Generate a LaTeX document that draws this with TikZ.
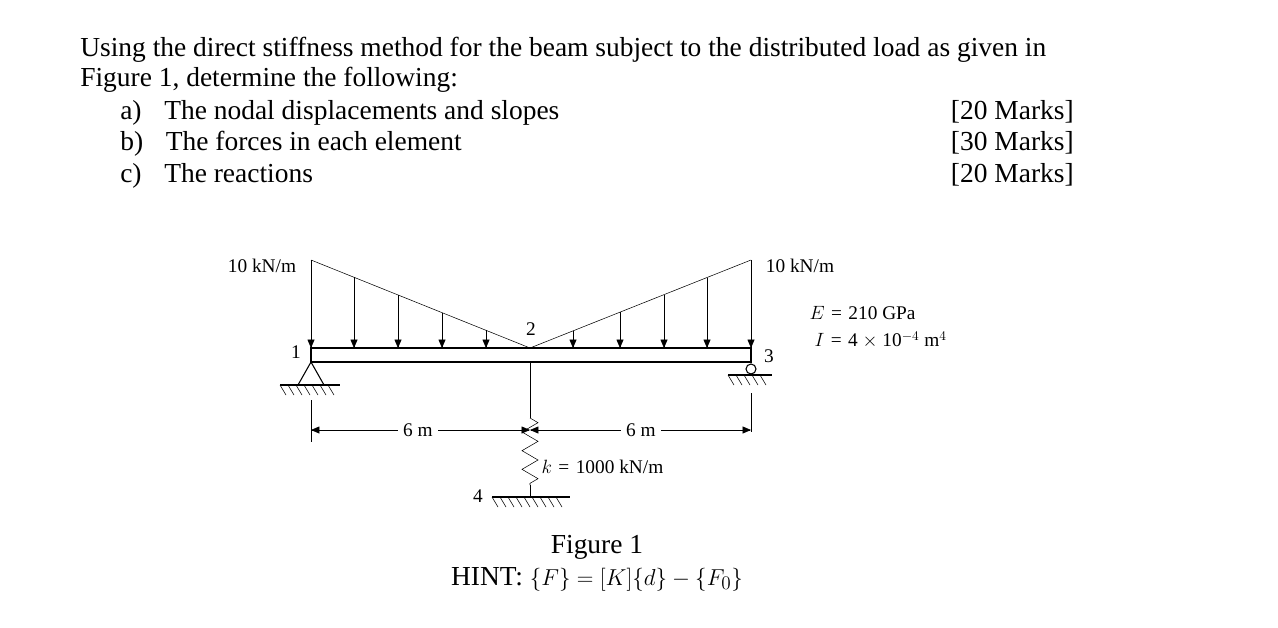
\documentclass[tikz,border=0pt]{standalone}
\usepackage{fontspec}
\setmainfont{Liberation Serif}
\usepackage{amsmath}
\usetikzlibrary{arrows,decorations.pathmorphing}
\tikzset{
    txt/.style={font=\fontsize{20.6}{23}\selectfont, inner sep=0pt},
    lbl/.style={font=\fontsize{14.5}{16}\selectfont, inner sep=1pt},
    load/.style={-triangle 45, thin},
    dim/.style={-triangle 45, thin},
    hatch/.style={thin}
}
\begin{document}
\begin{tikzpicture}[x=0.75pt,y=-0.75pt]
    \useasboundingbox (0,0) rectangle (1278,628);
    % question text
    \node[txt,anchor=base west] (q1) at (80,56) {Using the direct stiffness method for the beam subject to the distributed load as given in};
    \node[txt,anchor=base west] (q2) at (80,86) {Figure 1, determine the following:};
    \node[txt,anchor=base west] (qa) at (120,119) {a)\hspace{17pt}The nodal displacements and slopes};
    \node[txt,anchor=base west] (qb) at (120,150) {b)\hspace{17pt}The forces in each element};
    \node[txt,anchor=base west] (qc) at (120,182) {c)\hspace{17pt}The reactions};
    \node[txt,anchor=base east] (ma) at (1074,119) {[20 Marks]};
    \node[txt,anchor=base east] (mb) at (1074,150) {[30 Marks]};
    \node[txt,anchor=base east] (mc) at (1074,182) {[20 Marks]};
    % beam
    \coordinate (n1) at (311,348);
    \coordinate (n2) at (530,348);
    \coordinate (n3) at (751,348);
    \draw[thick] (311,348) rectangle (751,362);
    % load
    \draw (311,260) -- (n2) -- (751,260);
    \foreach \lx in {311,354,398,442,486}
        \draw[load] (\lx,{260+(\lx-311)/219*88}) -- (\lx,348);
    \foreach \lx in {573,620,664,707,751}
        \draw[load] (\lx,{348-(\lx-530)/221*88}) -- (\lx,348);
    \node[lbl] (w1) at (262,266) {10 kN/m};
    \node[lbl] (w3) at (800,266) {10 kN/m};
    \node[lbl] (l1) at (296,352) {1};
    \node[lbl] (l2) at (531,329) {2};
    \node[lbl] (l3) at (769,356) {3};
    \node[lbl] (l4) at (478,496) {4};
    % pin support
    \draw[thick] (311,362) -- (298,385) -- (324,385) -- cycle;
    \draw[thick] (280,385) -- (340,385);
    \foreach \hx in {280,288,...,332}
        \draw[hatch] (\hx,385) -- (\hx+6,395);
    % roller support
    \draw[thick] (751,369) circle (5);
    \draw[thick] (728,375) -- (772,375);
    \foreach \hx in {728,736,...,764}
        \draw[hatch] (\hx,375) -- (\hx+6,385);
    % spring
    \draw (530,362) -- (530,418);
    \draw[decorate,decoration={zigzag,segment length=14,amplitude=6}] (530,418) -- (530,485);
    \draw (530,485) -- (530,497);
    \draw[thick] (492,497) -- (570,497);
    \foreach \hx in {492,500,...,562}
        \draw[hatch] (\hx,497) -- (\hx+6,507);
    \node[lbl,anchor=west] (k) at (540,467) {$k$\,\,=\,\,1000 kN/m};
    % dimensions
    \draw (311,400) -- (311,442);
    \draw (751,393) -- (751,432);
    \coordinate (d1) at (311,430);
    \coordinate (d2) at (530,430);
    \coordinate (d3) at (751,430);
    \draw[dim] (418,430) -- (d1);
    \draw[dim] (418,430) -- (d2);
    \draw[dim] (641,430) -- (d2);
    \draw[dim] (641,430) -- (d3);
    \node[lbl,fill=white,inner xsep=4pt] (s1) at (418,430) {6 m};
    \node[lbl,fill=white,inner xsep=4pt] (s2) at (641,430) {6 m};
    % properties
    \node[lbl,anchor=west] (E) at (808,313) {$E$\,\,=\,\,210 GPa};
    \node[lbl,anchor=west] (I) at (813,340) {$I$\,\,=\,\,4 $\times$ 10$^{-4}$ m$^4$};
    % caption
    \node[txt] (fig) at (597,547) {Figure 1};
    \node[txt] (hint) at (597,579) {HINT: {\fontsize{19}{21}\selectfont$\{F\}=[K]\{d\}-\{F_0\}$}};
\end{tikzpicture}
\end{document}
